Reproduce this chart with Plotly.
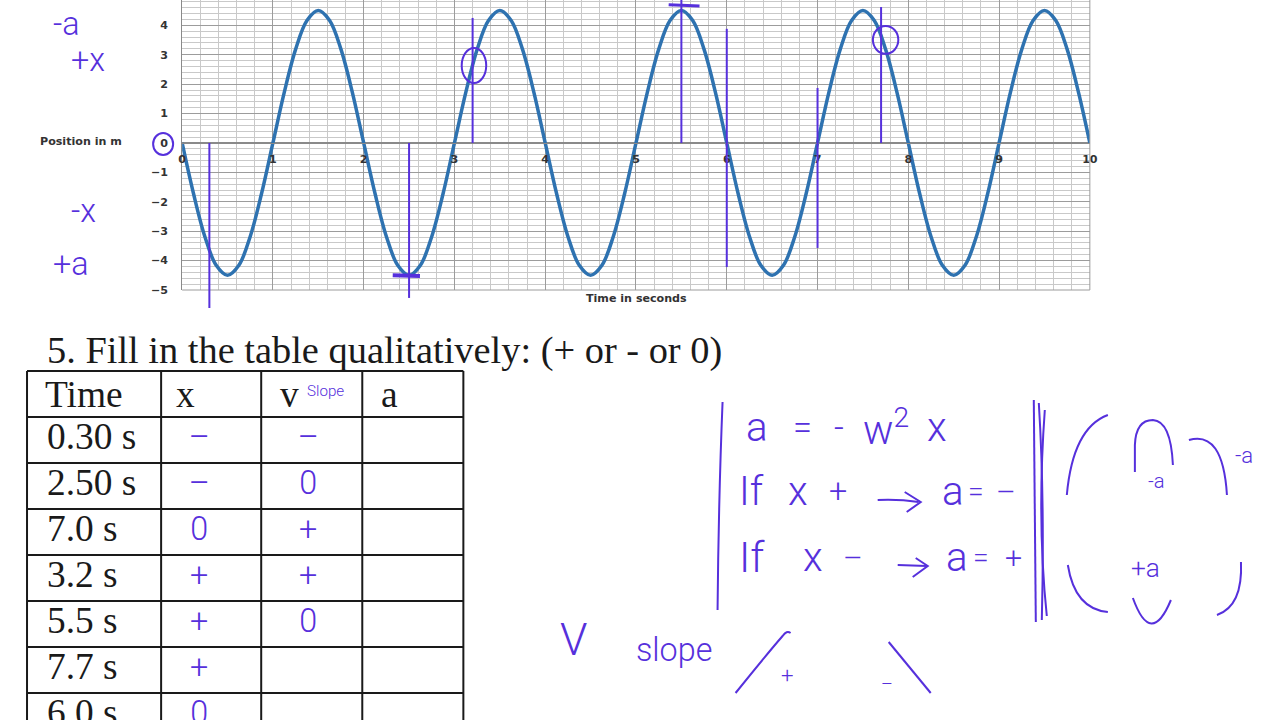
import plotly.graph_objects as go

# ── curve (position in m vs time in s) ───────────────────────────────────────
TIME_S = [
    0.0, 0.125, 0.25, 0.375, 0.5, 0.625, 0.75, 0.875,
    1.0, 1.125, 1.25, 1.375, 1.5, 1.625, 1.75, 1.875,
    2.0, 2.125, 2.25, 2.375, 2.5, 2.625, 2.75, 2.875,
    3.0, 3.125, 3.25, 3.375, 3.5, 3.625, 3.75, 3.875,
    4.0, 4.125, 4.25, 4.375, 4.5, 4.625, 4.75, 4.875,
    5.0, 5.125, 5.25, 5.375, 5.5, 5.625, 5.75, 5.875,
    6.0, 6.125, 6.25, 6.375, 6.5, 6.625, 6.75, 6.875,
    7.0, 7.125, 7.25, 7.375, 7.5, 7.625, 7.75, 7.875,
    8.0, 8.125, 8.25, 8.375, 8.5, 8.625, 8.75, 8.875,
    9.0, 9.125, 9.25, 9.375, 9.5, 9.625, 9.75, 9.875,
    10.0,
]
POSITION_M = [
    0.0, -1.72, -3.18, -4.16, -4.5, -4.16, -3.18, -1.72,
    0.0, 1.72, 3.18, 4.16, 4.5, 4.16, 3.18, 1.72,
    0.0, -1.72, -3.18, -4.16, -4.5, -4.16, -3.18, -1.72,
    0.0, 1.72, 3.18, 4.16, 4.5, 4.16, 3.18, 1.72,
    0.0, -1.72, -3.18, -4.16, -4.5, -4.16, -3.18, -1.72,
    0.0, 1.72, 3.18, 4.16, 4.5, 4.16, 3.18, 1.72,
    0.0, -1.72, -3.18, -4.16, -4.5, -4.16, -3.18, -1.72,
    0.0, 1.72, 3.18, 4.16, 4.5, 4.16, 3.18, 1.72,
    0.0, -1.72, -3.18, -4.16, -4.5, -4.16, -3.18, -1.72,
    0.0, 1.72, 3.18, 4.16, 4.5, 4.16, 3.18, 1.72,
    0.0,
]

# pen strokes drawn on the graph at the table times
MARK_TIMES  = [0.3, 2.5, 3.2, 5.5, 6.0, 7.0, 7.7]
MARK_TOP    = [0.0, 0.0, 4.25, 4.9, 3.88, 1.87, 4.62]
MARK_BOTTOM = [-5.61, -5.27, 0.0, 0.0, -4.22, -3.57, 0.0]

# ── table ────────────────────────────────────────────────────────────────────
HEADERS     = ["Time", "x", "v", "a"]
TABLE_TIMES = ["0.30 s", "2.50 s", "7.0 s", "3.2 s", "5.5 s", "7.7 s", "6.0 s"]
X_SIGNS     = ["–", "–", "0", "+", "+", "+", "0"]
V_SIGNS     = ["–", "0", "+", "+", "0", "", ""]

# ── theme ────────────────────────────────────────────────────────────────────
W, H = 1280, 720          # layout units used for every position below
K = 1.01                  # the page gets photographed ~1% smaller, so draw ~1% bigger
DX = 4                    # and ~4 px further right, so pull everything left
PEN = "#5630dc"
PEN_FONT = "Roboto"
CURVE = "#2e72b0"
INK = "#1a1a1a"
SERIF = "Liberation Serif"
X_RANGE = [0, 10]
Y_RANGE = [-5, 4.86]
PLOT_X = [(182 - DX) / W, (1089 - DX) / W]
PLOT_Y = [1 - 290 / H, 1.0]


def y_paper(v):
    return PLOT_Y[0] + (v - Y_RANGE[0]) / (Y_RANGE[1] - Y_RANGE[0]) * (PLOT_Y[1] - PLOT_Y[0])


def fs(size):
    return round(size * K, 1)


fig = go.Figure()
fig.add_trace(go.Scatter(
    x=TIME_S, y=POSITION_M, mode="lines",
    line=dict(color=CURVE, width=3.5, shape="spline"),
    showlegend=False, hoverinfo="skip",
))

axis_font = dict(family="DejaVu Sans", size=fs(11), color="#333333", weight="bold")

fig.update_layout(
    width=round(W * K), height=round(H * K),
    margin=dict(l=0, r=0, t=0, b=0),
    paper_bgcolor="white",
    plot_bgcolor="rgba(0,0,0,0)",
    xaxis=dict(
        domain=PLOT_X, range=X_RANGE, dtick=1, tick0=0,
        anchor="free", position=y_paper(0),
        showgrid=True, gridcolor="#9c9c9c", gridwidth=1,
        minor=dict(dtick=0.2, showgrid=True, gridcolor="#c9c9c9", gridwidth=1),
        showline=True, linecolor="#8a8a8a", linewidth=1,
        zeroline=False,
        ticks="outside", ticklen=6, tickcolor="rgba(0,0,0,0)",
        tickfont=axis_font,
    ),
    yaxis=dict(
        domain=PLOT_Y, range=Y_RANGE, dtick=1, tick0=0,
        showgrid=True, gridcolor="#9c9c9c", gridwidth=1,
        minor=dict(dtick=0.2, showgrid=True, gridcolor="#c9c9c9", gridwidth=1),
        showline=True, linecolor="#8a8a8a", linewidth=1,
        zeroline=True, zerolinecolor="#8a8a8a", zerolinewidth=1,
        ticks="outside", ticklen=11, tickcolor="rgba(0,0,0,0)",
        tickfont=axis_font,
    ),
    # full-page overlay in reference pixel units for the worksheet and pen notes
    xaxis2=dict(domain=[0, 1], range=[DX, W + DX], visible=False, anchor="y2", fixedrange=True),
    yaxis2=dict(domain=[0, 1], range=[H, 0], visible=False, anchor="x2", fixedrange=True),
)

# plot frame (bottom and right edge)
fig.add_shape(type="line", xref="x2", yref="y2", x0=182, y0=290, x1=1089, y1=290,
              line=dict(color="#9c9c9c", width=1))
fig.add_shape(type="line", xref="x2", yref="y2", x0=1089, y0=0, x1=1089, y1=290,
              line=dict(color="#9c9c9c", width=1))

# axis titles
fig.add_annotation(text="Position in m", x=38, y=141, xref="x2", yref="y2",
                   xanchor="left", yanchor="middle", showarrow=False, font=axis_font)
fig.add_annotation(text="Time in seconds", x=636, y=298, xref="x2", yref="y2",
                   xanchor="center", yanchor="middle", showarrow=False, font=axis_font)

# ── pen marks on the graph ───────────────────────────────────────────────────
pen_line = dict(color=PEN, width=2)
for t, top, bot in zip(MARK_TIMES, MARK_TOP, MARK_BOTTOM):
    fig.add_shape(type="line", xref="x", yref="paper", x0=t, x1=t,
                  y0=y_paper(bot), y1=y_paper(top), line=pen_line)
fig.add_shape(type="line", xref="x", yref="y", x0=5.36, x1=5.7, y0=4.7, y1=4.66,
              line=dict(color=PEN, width=3))
fig.add_shape(type="line", xref="x", yref="y", x0=2.32, x1=2.62, y0=-4.5, y1=-4.52,
              line=dict(color=PEN, width=4))
fig.add_shape(type="circle", xref="x", yref="y", x0=3.08, x1=3.35, y0=2.04, y1=3.23,
              line=pen_line)
fig.add_shape(type="circle", xref="x", yref="y", x0=7.61, x1=7.89, y0=3.03, y1=3.98,
              line=pen_line)
fig.add_shape(type="circle", xref="x2", yref="y2", x0=153, x1=173, y0=133, y1=155,
              line=pen_line)


def note(txt, x, y, size, color=PEN, family=PEN_FONT, xanchor="left", weight=300):
    fig.add_annotation(text=txt, x=x, y=y, xref="x2", yref="y2", showarrow=False,
                       xanchor=xanchor, yanchor="middle",
                       font=dict(family=family, size=fs(size), color=color, weight=weight))


note("-a", 51, 24, 32)
note("+x", 69, 60, 32)
note("-x", 69, 211, 32)
note("+a", 51, 264, 32)

# ── table ────────────────────────────────────────────────────────────────────
note("5. Fill in the table qualitatively: (+ or - or 0)", 45, 350, 38,
     color=INK, family=SERIF, weight="normal")

col_edges = [27, 161, 261, 362, 463]
row_top, row_h = 371, 46
n_rows = len(TABLE_TIMES) + 1
for i in range(n_rows + 1):
    yy = row_top + i * row_h
    fig.add_shape(type="line", xref="x2", yref="y2", x0=col_edges[0], x1=col_edges[-1],
                  y0=yy, y1=yy, line=dict(color=INK, width=2))
for xx in col_edges:
    fig.add_shape(type="line", xref="x2", yref="y2", x0=xx, x1=xx,
                  y0=row_top, y1=H, line=dict(color=INK, width=2))

head_pad = [16, 13, 17, 17]
for j, head in enumerate(HEADERS):
    note(head, col_edges[j] + head_pad[j], row_top + row_h / 2, 37,
         color=INK, family=SERIF, weight="normal")
note("Slope", 305, 391, 15)

# table body as text traces, so the last row is clipped at the page edge
row_y = [row_top + (i + 1.5) * row_h for i in range(len(TABLE_TIMES))]
fig.add_trace(go.Scatter(
    x=[47] * len(TABLE_TIMES), y=row_y, text=TABLE_TIMES,
    mode="text", textposition="middle right", cliponaxis=True,
    textfont=dict(family=SERIF, size=fs(37), color=INK),
    xaxis="x2", yaxis="y2", showlegend=False, hoverinfo="skip",
))
for col_x, signs in [(199, X_SIGNS), (308, V_SIGNS)]:
    filled = [(yc, s) for yc, s in zip(row_y, signs) if s]
    fig.add_trace(go.Scatter(
        x=[col_x] * len(filled), y=[yc for yc, _ in filled], text=[s for _, s in filled],
        mode="text", textposition="middle center", cliponaxis=True,
        textfont=dict(family=PEN_FONT, size=fs(32), color=PEN, weight=300),
        xaxis="x2", yaxis="y2", showlegend=False, hoverinfo="skip",
    ))

# ── notes on the right ───────────────────────────────────────────────────────
for txt, x, size in [("a", 743, 40), ("=", 790, 34), ("-", 831, 34),
                     ("w<sup>2</sup>", 860, 40), ("x", 924, 40)]:
    note(txt, x, 427, size)
for txt, x, size in [("If", 736, 40), ("x", 785, 40), ("+", 826, 32),
                     ("a", 939, 40), ("=", 965, 28), ("–", 993, 30)]:
    note(txt, x, 491, size)
for txt, x, size in [("If", 736, 42), ("x", 800, 40), ("–", 840, 30),
                     ("a", 943, 40), ("=", 970, 28), ("+", 1002, 30)]:
    note(txt, x, 557, size)

for path in [
    "M 722 402 Q 718 500 717 610",
    # arrows
    "M 877 500 Q 898 499 918 502",
    "M 904 492 L 920 502 L 906 512",
    "M 897 565 L 926 566",
    "M 915 558 L 927 566 L 912 577",
    # double bar
    "M 1033 400 L 1035 622",
    "M 1038 403 Q 1044 500 1041 620",
    "M 1044 410 Q 1036 520 1046 616",
    # bracket sketches
    "M 1107 415 Q 1072 428 1066 495",
    "M 1134 472 L 1134 445 Q 1135 420 1152 420 Q 1170 421 1172 465",
    "M 1188 440 Q 1222 430 1226 495",
    "M 1067 565 Q 1074 609 1107 612",
    "M 1132 598 Q 1150 648 1170 600",
    "M 1240 562 Q 1242 606 1216 615",
    # slope sketches
    "M 735 693 Q 768 652 782 636 Q 786 630 790 633",
    "M 888 642 L 930 693",
]:
    fig.add_shape(type="path", xref="x2", yref="y2", path=path, line=pen_line)

note("-a", 1145, 481, 20)
note("-a", 1232, 455, 22)
note("+a", 1128, 568, 26)

note("V", 558, 640, 44)
note("slope", 634, 650, 32)
note("+", 778, 675, 22)
note("–", 878, 683, 18)

page_fix = (
    "document.documentElement.style.margin = '0';"
    "document.documentElement.style.overflow = 'hidden';"
    "document.body.style.margin = '0';"
    "document.body.style.overflow = 'hidden';"
    "var gd = document.getElementById('{plot_id}');"
    "gd.style.overflow = 'hidden';"
    "gd.querySelectorAll('.main-svg').forEach(function (s) { s.style.overflow = 'hidden'; });"
)
fig.write_html("out.html", config={"displayModeBar": False}, post_script=page_fix)
